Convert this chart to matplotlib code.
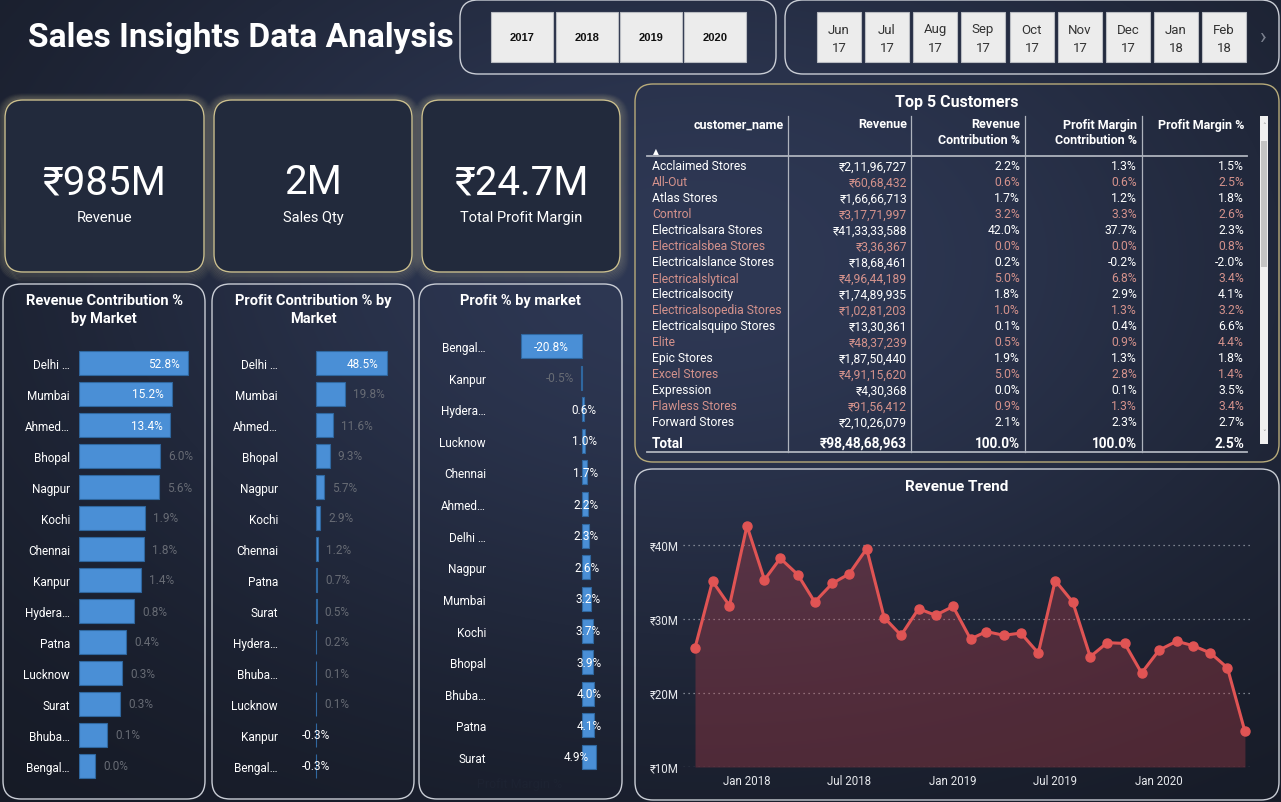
import numpy as np
import pandas as pd
import matplotlib
matplotlib.use('Agg')
import matplotlib.pyplot as plt
import matplotlib.dates as mdates
from matplotlib.patches import FancyBboxPatch, Rectangle

W, H = 1281, 803
plt.rcParams['font.family'] = ['Roboto', 'DejaVu Sans']

# ---------------- data ----------------
years = ["2017", "2018", "2019", "2020"]
month_buttons = ["Jun\n17", "Jul\n17", "Aug\n17", "Sep\n17", "Oct\n17",
                 "Nov\n17", "Dec\n17", "Jan\n18", "Feb\n18"]
kpi_values = ["₹985M", "2M", "₹24.7M"]
kpi_labels = ["Revenue", "Sales Qty", "Total Profit Margin"]

rev_markets = ["Delhi …", "Mumbai", "Ahmed…", "Bhopal", "Nagpur", "Kochi", "Chennai",
               "Kanpur", "Hydera…", "Patna", "Lucknow", "Surat", "Bhuba…", "Bengal…"]
rev_share = [52.8, 15.2, 13.4, 6.0, 5.6, 1.9, 1.8, 1.4, 0.8, 0.44, 0.32, 0.28, 0.1, 0.04]

pc_markets = ["Delhi …", "Mumbai", "Ahmed…", "Bhopal", "Nagpur", "Kochi", "Chennai",
              "Patna", "Surat", "Hydera…", "Bhuba…", "Lucknow", "Kanpur", "Bengal…"]
pc_share = [48.5, 19.8, 11.6, 9.3, 5.7, 2.9, 1.2, 0.7, 0.5, 0.2, 0.1, 0.1, -0.3, -0.3]

pp_markets = ["Bengal…", "Kanpur", "Hydera…", "Lucknow", "Chennai", "Ahmed…", "Delhi …",
              "Nagpur", "Mumbai", "Kochi", "Bhopal", "Bhuba…", "Patna", "Surat"]
pp_pct = [-20.8, -0.5, 0.6, 1.0, 1.7, 2.2, 2.3, 2.6, 3.2, 3.7, 3.9, 4.0, 4.1, 4.9]

customers = ["Acclaimed Stores", "All-Out", "Atlas Stores", "Control", "Electricalsara Stores",
             "Electricalsbea Stores", "Electricalslance Stores", "Electricalslytical",
             "Electricalsocity", "Electricalsopedia Stores", "Electricalsquipo Stores", "Elite",
             "Epic Stores", "Excel Stores", "Expression", "Flawless Stores", "Forward Stores"]
cust_revenue = [21196727, 6068432, 16666713, 31771997, 413333588, 336367, 1868461, 49644189,
                17489935, 10281203, 1330361, 4837239, 18750440, 49115620, 430368, 9156412,
                21026079]
cust_rev_contr = [2.2, 0.6, 1.7, 3.2, 42.0, 0.0, 0.2, 5.0, 1.8, 1.0, 0.1, 0.5, 1.9, 5.0, 0.0, 0.9, 2.1]
cust_pm_contr = [1.3, 0.6, 1.2, 3.3, 37.7, 0.0, -0.2, 6.8, 2.9, 1.3, 0.4, 0.9, 1.3, 2.8, 0.1, 1.3, 2.3]
cust_pm_pct = [1.5, 2.5, 1.8, 2.6, 2.3, 0.8, -2.0, 3.4, 4.1, 3.2, 6.6, 4.4, 1.8, 1.4, 3.5, 3.4, 2.7]
total_revenue = 984868963
total_rev_contr = 100.0
total_pm_contr = 100.0
total_pm_pct = 2.5

trend_months = ["2017-10", "2017-11", "2017-12", "2018-01", "2018-02", "2018-03", "2018-04",
                "2018-05", "2018-06", "2018-07", "2018-08", "2018-09", "2018-10", "2018-11",
                "2018-12", "2019-01", "2019-02", "2019-03", "2019-04", "2019-05", "2019-06",
                "2019-07", "2019-08", "2019-09", "2019-10", "2019-11", "2019-12", "2020-01",
                "2020-02", "2020-03", "2020-04", "2020-05", "2020-06"]
trend_rev = [26.1, 35.1, 31.8, 42.6, 35.3, 38.2, 36.0, 32.3, 34.8, 36.1, 39.5, 30.2, 27.8,
             31.4, 30.5, 31.7, 27.3, 28.3, 27.8, 28.1, 25.4, 35.2, 32.3, 24.9, 26.8, 26.7,
             22.7, 25.8, 27.0, 26.4, 25.4, 23.4, 14.8]


def inr(n):
    s = str(int(n))
    last3, rest = s[-3:], s[:-3]
    groups = []
    while len(rest) > 2:
        groups.insert(0, rest[-2:])
        rest = rest[:-2]
    if rest:
        groups.insert(0, rest)
    return "₹" + ",".join(groups + [last3])


# ---------------- figure ----------------
fig = plt.figure(figsize=(W / 100, H / 100), dpi=100)
bg = fig.add_axes([0, 0, 1, 1])
bg.set_xlim(0, W)
bg.set_ylim(0, H)
bg.axis('off')

yy, xx = np.mgrid[0:H:4, 0:W:4]
f = np.exp(-(((xx - 700) / 700.0) ** 2 + ((yy - 260) / 450.0) ** 2))
dark = np.array([20, 24, 34]) / 255.0
bright = np.array([46, 56, 84]) / 255.0
img = dark[None, None, :] + (bright - dark)[None, None, :] * f[..., None]
bg.imshow(img, extent=(0, W, 0, H), origin='upper', aspect='auto', interpolation='bilinear', zorder=0)


def Y(y):
    return H - y


def panel(x0, y0, x1, y1, ec='#c9cdd5', lw=1.0, r=16, fc='none', glow=None):
    if glow:
        for k in range(1, 10):
            g = FancyBboxPatch((x0 - k, Y(y1) - k * 1.3), x1 - x0 + 2 * k, y1 - y0 + 2 * k,
                               boxstyle=f"round,pad=0,rounding_size={r + k}",
                               fc='none', ec=glow, lw=1.6, alpha=0.12 * (10 - k) / 9, zorder=1)
            bg.add_patch(g)
    p = FancyBboxPatch((x0, Y(y1)), x1 - x0, y1 - y0,
                       boxstyle=f"round,pad=0,rounding_size={r}",
                       fc=fc, ec=ec, lw=lw, zorder=2)
    bg.add_patch(p)


def add_ax(x0, y0, x1, y1):
    a = fig.add_axes([x0 / W, 1 - y1 / H, (x1 - x0) / W, (y1 - y0) / H])
    a.set_facecolor('none')
    return a


# ---------------- title ----------------
title = bg.text(28, Y(38), "Sales Insights Data Analysis", fontsize=24, weight='bold',
                color='white', va='center', ha='left', zorder=5)
fig.canvas.draw()
bb = title.get_window_extent(fig.canvas.get_renderer())
title.set_fontsize(24 * 427.0 / bb.width)

# ---------------- slicers ----------------
panel(460, 1, 776, 75, ec='#c9cdd5', r=18)
yb_x = [491, 556, 620, 684]
for x, yr in zip(yb_x, years):
    bg.add_patch(Rectangle((x, Y(63)), 62, 50, fc='#ececec', ec='#b9bcc2', lw=0.8, zorder=3))
    bg.text(x + 31, Y(38), yr, ha='center', va='center', fontsize=8, weight='bold',
            color='#111111', family=['Liberation Sans', 'DejaVu Sans'], zorder=4)

panel(785, 1, 1279, 75, ec='#c9cdd5', r=18)
mb_x = [817, 865, 913, 961, 1010, 1058, 1106, 1154, 1202]
for x, m in zip(mb_x, month_buttons):
    bg.add_patch(Rectangle((x, Y(63)), 44, 50, fc='#ececec', ec='#b9bcc2', lw=0.8, zorder=3))
    top, bot = m.split("\n")
    bg.text(x + 22, Y(30), top, ha='center', va='center', fontsize=9.5, color='#333333', zorder=4)
    bg.text(x + 22, Y(48), bot, ha='center', va='center', fontsize=9.5, color='#333333', zorder=4)
bg.text(1262, Y(38), "›", ha='center', va='center', fontsize=16, color='#7d8290', zorder=4)

# ---------------- KPI cards ----------------
cards = [(5, 204), (214, 412), (422, 620)]
for (x0, x1), v, lab in zip(cards, kpi_values, kpi_labels):
    panel(x0, 101, x1, 273, ec='#cbbf8e', lw=1.0, r=18, fc='#222a3c', glow='#cfc59a')
    cx = (x0 + x1) / 2
    bg.text(cx, Y(183), v, ha='center', va='center', fontsize=29, color='white', zorder=5)
    bg.text(cx, Y(218), lab, ha='center', va='center', fontsize=10.5, color='white', zorder=5)

# ---------------- bottom panels ----------------
panel(3, 285, 205, 800, r=18)
panel(212, 285, 414, 800, r=18)
panel(419, 285, 622, 800, r=18)
bg.text(104, Y(301), "Revenue Contribution %", ha='center', va='center', fontsize=10.5,
        weight='bold', color='white', zorder=5)
bg.text(104, Y(319), "by Market", ha='center', va='center', fontsize=10.5,
        weight='bold', color='white', zorder=5)
bg.text(313, Y(301), "Profit Contribution % by", ha='center', va='center', fontsize=10.5,
        weight='bold', color='white', zorder=5)
bg.text(313, Y(319), "Market", ha='center', va='center', fontsize=10.5,
        weight='bold', color='white', zorder=5)
bg.text(520, Y(301), "Profit % by market", ha='center', va='center', fontsize=10.5,
        weight='bold', color='white', zorder=5)
bg.text(520, Y(785), "Profit Margin %", ha='center', va='center', fontsize=9,
        color='#1d2332', zorder=5)

BAR = '#4a8fd6'
BAR_EC = '#2f679f'
DIM = '#676b74'
LBL = 8.5


def style_bar_ax(a, cats, pad):
    a.set_yticks(range(len(cats)))
    a.set_yticklabels(cats, color='white', fontsize=8.5)
    a.tick_params(axis='y', length=0, pad=pad)
    a.set_xticks([])
    a.set_ylim(len(cats) - 0.5, -0.5)
    for s in a.spines.values():
        s.set_visible(False)


# Revenue contribution (log scale)
a1 = add_ax(79, 348.5, 199, 782.5)
xmin1 = 0.0115
a1.set_xscale('log')
a1.barh(range(len(rev_share)), np.array(rev_share) - xmin1, left=xmin1, height=0.77,
        color=BAR, edgecolor=BAR_EC, lw=0.8)
a1.set_xlim(xmin1, 122)
style_bar_ax(a1, rev_markets, 6.5)
for i, v in enumerate(rev_share):
    if v > 10:
        a1.annotate(f"{v:.1f}%", xy=(v, i), xytext=(-8, 0), textcoords='offset pixels',
                    ha='right', va='center', fontsize=LBL, color='white')
    else:
        a1.annotate(f"{v:.1f}%", xy=(v, i), xytext=(8, 0), textcoords='offset pixels',
                    ha='left', va='center', fontsize=LBL, color=DIM)

# Profit contribution
a2 = add_ax(296, 348.5, 406, 782.5)
a2.barh(range(len(pc_share)), pc_share, height=0.77, color=BAR, edgecolor=BAR_EC, lw=0.8)
a2.set_xlim(-13.7, 61.6)
style_bar_ax(a2, pc_markets, 13)
for i, v in enumerate(pc_share):
    if v > 40:
        a2.annotate(f"{v:.1f}%", xy=(v, i), xytext=(-8, 0), textcoords='offset pixels',
                    ha='right', va='center', fontsize=LBL, color='white')
    elif v < 0:
        a2.annotate(f"{v:.1f}%", xy=(v, i), xytext=(0, 0), textcoords='offset pixels',
                    ha='center', va='center', fontsize=LBL, color='white')
    else:
        a2.annotate(f"{v:.1f}%", xy=(v, i), xytext=(8, 0), textcoords='offset pixels',
                    ha='left', va='center', fontsize=LBL, color=DIM)

# Profit % by market
a3 = add_ax(510, 331.2, 610, 773.8)
a3.barh(range(len(pp_pct)), pp_pct, height=0.76, color=BAR, edgecolor=BAR_EC, lw=0.8)
a3.set_xlim(-24.4, 9.5)
style_bar_ax(a3, pp_markets, 17.3)
for i, v in enumerate(pp_pct):
    if v < -5:
        a3.annotate(f"{v:.1f}%", xy=(v / 2, i), ha='center', va='center', fontsize=LBL, color='white')
    elif v < 0:
        a3.annotate(f"{v:.1f}%", xy=(v, i), xytext=(-6, 0), textcoords='offset pixels',
                    ha='right', va='center', fontsize=LBL, color=DIM)
    elif v > 4.5:
        a3.annotate(f"{v:.1f}%", xy=(v, i), xytext=(-8, 0), textcoords='offset pixels',
                    ha='right', va='center', fontsize=LBL, color='white')
    else:
        a3.annotate(f"{v:.1f}%", xy=(v / 2, i), xytext=(1, 0), textcoords='offset pixels',
                    ha='center', va='center', fontsize=LBL, color='white')

# ---------------- table ----------------
panel(635, 85, 1279, 463, ec='#b8ab7a', r=18)
bg.text(957, Y(103), "Top 5 Customers", ha='center', va='center', fontsize=11.5,
        weight='bold', color='white', zorder=5)
hdr_kw = dict(va='center', fontsize=9, weight='bold', color='white', zorder=5)
bg.text(784, Y(125), "customer_name", ha='right', **hdr_kw)
bg.text(907, Y(125), "Revenue", ha='right', **hdr_kw)
bg.text(1020, Y(125), "Revenue", ha='right', **hdr_kw)
bg.text(1020, Y(141), "Contribution %", ha='right', **hdr_kw)
bg.text(1137, Y(125), "Profit Margin", ha='right', **hdr_kw)
bg.text(1137, Y(141), "Contribution %", ha='right', **hdr_kw)
bg.text(1244, Y(125), "Profit Margin %", ha='right', **hdr_kw)
bg.text(656, Y(152), "▲", ha='center', va='center', fontsize=5.5, color='white', zorder=5)

line_c = '#aeb3bd'
bg.plot([647, 1247], [Y(157), Y(157)], color=line_c, lw=1.3, zorder=4)
bg.plot([647, 1247], [Y(453), Y(453)], color=line_c, lw=1.3, zorder=4)
for sx in [788, 911, 1025, 1142]:
    bg.plot([sx, sx], [Y(117), Y(453)], color=line_c, lw=0.9, zorder=4)

row_kw = dict(va='center', fontsize=8.7, zorder=5)
for i, name in enumerate(customers):
    y = Y(167 + 16.0 * i)
    c = 'white' if i % 2 == 0 else '#d4928c'
    bg.text(652, y, name, ha='left', color=c, **row_kw)
    bg.text(907, y, inr(cust_revenue[i]), ha='right', color=c, **row_kw)
    bg.text(1020, y, f"{cust_rev_contr[i]:.1f}%", ha='right', color=c, **row_kw)
    bg.text(1137, y, f"{cust_pm_contr[i]:.1f}%", ha='right', color=c, **row_kw)
    bg.text(1244, y, f"{cust_pm_pct[i]:.1f}%", ha='right', color=c, **row_kw)
tot_kw = dict(va='center', fontsize=9.8, weight='bold', color='white', zorder=5)
bg.text(652, Y(444), "Total", ha='left', **tot_kw)
bg.text(907, Y(444), inr(total_revenue), ha='right', **tot_kw)
bg.text(1020, Y(444), f"{total_rev_contr:.1f}%", ha='right', **tot_kw)
bg.text(1137, Y(444), f"{total_pm_contr:.1f}%", ha='right', **tot_kw)
bg.text(1244, Y(444), f"{total_pm_pct:.1f}%", ha='right', **tot_kw)

# scrollbar
bg.add_patch(Rectangle((1260, Y(445)), 7.5, 328, fc='#f0f0f0', ec='none', zorder=4))
bg.add_patch(Rectangle((1261, Y(268)), 5.5, 126, fc='#c4c4c4', ec='none', zorder=5))
bg.text(1263.7, Y(127), "˄", ha='center', va='center', fontsize=5, color='#888888', zorder=6)
bg.text(1263.7, Y(434), "˅", ha='center', va='center', fontsize=5, color='#888888', zorder=6)

# ---------------- revenue trend ----------------
panel(635, 470, 1279, 801, ec='#c9cdd5', r=18)
bg.text(957, Y(487), "Revenue Trend", ha='center', va='center', fontsize=11,
        weight='bold', color='white', zorder=5)

dates = pd.to_datetime(trend_months)
a4 = add_ax(683, 500, 1253, 768)
a4.fill_between(dates, trend_rev, 10, color='#c0404a', alpha=0.32, lw=0, zorder=1)
a4.plot(dates, trend_rev, color='#e05454', lw=2.2, marker='o', ms=6.5, zorder=3)
a4.set_ylim(10, 10 + (768 - 500) / 7.4)
d0 = mdates.date2num(dates[0])
d1 = mdates.date2num(dates[-1])
a4.set_xlim(d0 - 0.7 * 30.4, d1 + 0.47 * 30.4)
a4.set_yticks([10, 20, 30, 40])
a4.set_yticklabels([f"₹{v}M" for v in [10, 20, 30, 40]])
a4.yaxis.grid(True, ls=(0, (1, 3)), color='#9aa0aa', lw=0.9)
a4.set_axisbelow(True)
a4.xaxis.set_major_locator(mdates.MonthLocator(bymonth=[1, 7]))
a4.xaxis.set_major_formatter(mdates.DateFormatter('%b %Y'))
a4.tick_params(axis='both', length=0, colors='#e6e8ec', labelsize=8.3)
a4.tick_params(axis='y', pad=3)
a4.tick_params(axis='x', pad=5)
for s in a4.spines.values():
    s.set_visible(False)

fig.savefig('out.png', dpi=100, facecolor='#1b2130')
